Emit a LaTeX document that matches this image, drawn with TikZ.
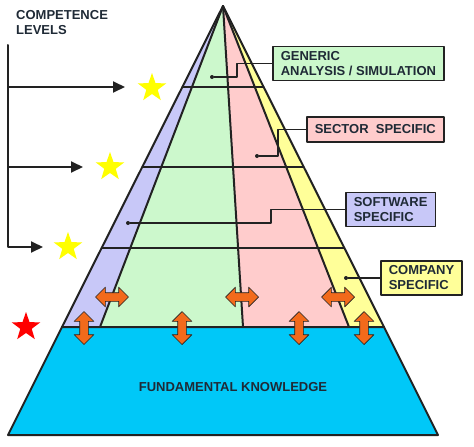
\documentclass[tikz,border=0pt]{standalone}
\usepackage{fontspec}
\setmainfont{Liberation Sans}
\usetikzlibrary{arrows.meta}
\usetikzlibrary{positioning}
\usetikzlibrary{shapes.geometric}
\usetikzlibrary{shapes.arrows}
\definecolor{linec}{HTML}{222222}
\definecolor{textc}{HTML}{1F2A36}
\definecolor{violetc}{HTML}{C8C8F8}
\definecolor{greenc}{HTML}{CCF8CC}
\definecolor{pinkc}{HTML}{FFCCCC}
\definecolor{yellowc}{HTML}{FFFF99}
\definecolor{bluec}{HTML}{00C8F8}
\definecolor{orangec}{HTML}{F26A1B}
\definecolor{starc}{HTML}{FFFF00}

\tikzset{
  lbl/.style={draw=linec, line width=1.5pt, font=\fontsize{13}{15}\selectfont\bfseries,
    text=textc, align=left, inner xsep=8pt, inner ysep=5pt, anchor=west},
  lvstar/.style={star, star points=5, star point ratio=2.5, fill=starc,
    minimum size=30pt, inner sep=0pt},
  harrow/.style={double arrow, fill=orangec, draw=linec, line width=0.7pt,
    minimum height=33pt, inner sep=4pt, double arrow head extend=5.5pt},
  varrow/.style={harrow, shape border rotate=90},
  dotc/.style={circle, fill=linec, inner sep=0pt, minimum size=4pt}
}

\begin{document}
\begin{tikzpicture}[line cap=round,line join=round, x=1pt,y=-1pt]
\useasboundingbox (0,0) rectangle (474,447);
% pyramid corners
\coordinate (apex) at (223,6);
\coordinate (L) at (62,327);
\coordinate (V) at (100,327);
\coordinate (M) at (243,327);
\coordinate (Y) at (349,327);
\coordinate (R) at (384,327);
\coordinate (BL) at (8,435);
\coordinate (BR) at (438,435);
\fill [violetc] (apex) -- (L) -- (V) -- cycle;
\fill [greenc] (apex) -- (V) -- (M) -- cycle;
\fill [pinkc] (apex) -- (M) -- (Y) -- cycle;
\fill [yellowc] (apex) -- (Y) -- (R) -- cycle;
\draw [linec, line width=2pt] (apex) -- (V);
\draw [linec, line width=2pt] (apex) -- (M);
\draw [linec, line width=2pt] (apex) -- (Y);
% levels
\draw [linec, line width=2pt] (182.4,87) -- (263.6,87);
\draw [linec, line width=2pt] (142.3,167) -- (303.7,167);
\draw [linec, line width=2pt] (101.7,248) -- (344.3,248);
\draw [linec, line width=2pt] (L) -- (apex) -- (R);
\draw [linec, line width=2pt, fill=bluec] (L) -- (R) -- (BR) -- (BL) -- cycle;
\node [font=\fontsize{13}{15}\selectfont\bfseries, text=textc] (fund) at (233,387) {FUNDAMENTAL KNOWLEDGE};

% competence levels
\node [font=\fontsize{13}{15}\selectfont\bfseries, text=textc, align=left, anchor=north west, inner sep=0pt] (title) at (16,10) {COMPETENCE\\LEVELS};
\coordinate (top) at (8,45);
\coordinate (b1) at (8,87);
\coordinate (b2) at (8,167);
\coordinate (e1) at (125,87);
\coordinate (e2) at (83,167);
\coordinate (e3) at (43,247);
\draw [linec, line width=2pt, -{Triangle[length=12pt, width=11pt]}] (top) |- (e3);
\draw [linec, line width=2pt, -{Triangle[length=12pt, width=11pt]}] (b1) -- (e1);
\draw [linec, line width=2pt, -{Triangle[length=12pt, width=11pt]}] (b2) -- (e2);
\node [lvstar] (s1) at (152,88) {};
\node [lvstar] (s2) at (110,167) {};
\node [lvstar] (s3) at (68,247) {};
\node [lvstar, fill=red] (s0) at (26,327) {};

% labels
\node [lbl, fill=greenc] (gen) at (272,63.5) {GENERIC\\ANALYSIS / SIMULATION};
\node [lbl, fill=pinkc, minimum height=25pt] (sec) at (306,129.5) {SECTOR\ \ SPECIFIC};
\node [lbl, fill=violetc] (soft) at (345,209.5) {SOFTWARE\\SPECIFIC};
\node [lbl, fill=yellowc] (comp) at (380,278) {COMPANY\\SPECIFIC};
\node [dotc] (dgen) at (212,77) {};
\node [dotc] (dsec) at (257,156) {};
\node [dotc] (dsoft) at (128,223) {};
\node [dotc] (dcomp) at (346,278) {};
\draw [linec, line width=1.2pt] (gen.west) -- ++(-35,0) |- (dgen);
\draw [linec, line width=1.2pt] (sec.west) -- ++(-28,0) |- (dsec);
\draw [linec, line width=1.2pt] (soft.west) -- ++(-74,0) |- (dsoft);
\draw [linec, line width=1.2pt] (comp.west) -- (dcomp);

% links to fundamental knowledge
\node [harrow] (h1) at (112,297) {};
\node [harrow] (h2) at (242,297) {};
\node [harrow] (h3) at (338,297) {};
\node [varrow] (v1) at (84,328) {};
\node [varrow] (v2) at (182,328) {};
\node [varrow] (v3) at (299,328) {};
\node [varrow] (v4) at (364,328) {};
\end{tikzpicture}
\end{document}
